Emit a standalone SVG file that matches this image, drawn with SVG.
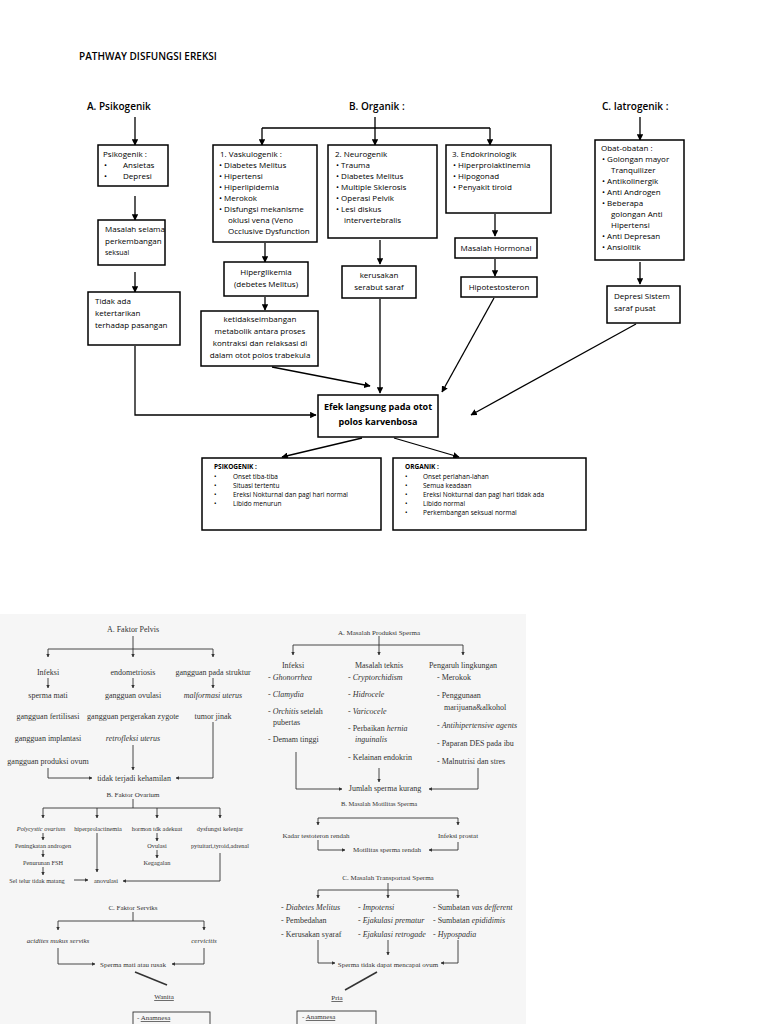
<svg xmlns="http://www.w3.org/2000/svg" width="768" height="1024" viewBox="0 0 768 1024">
<defs>
<marker id="ah" viewBox="0 0 10 10" refX="9" refY="5" markerWidth="5" markerHeight="5" orient="auto"><path d="M0,0 L10,5 L0,10 z" fill="#000"/></marker>
<marker id="as" viewBox="0 0 10 10" refX="9" refY="5" markerWidth="4" markerHeight="4" orient="auto"><path d="M0,0 L10,5 L0,10 z" fill="#333"/></marker>
</defs>
<style>
.b{fill:#fff;stroke:#000;stroke-width:1.5}
.t{font-family:"Open Sans","Liberation Sans",sans-serif;font-size:8px;fill:#000}
.tb{font-family:"Open Sans","Liberation Sans",sans-serif;font-size:8px;font-weight:bold;fill:#000}
.h{font-family:"Open Sans","Liberation Sans",sans-serif;font-size:10px;font-weight:600;fill:#000}
.s{font-family:"Liberation Serif",serif;font-size:8px;fill:#333}
.i{font-style:italic}
.c{text-anchor:middle}
.l{stroke:#000;stroke-width:1.3;fill:none}
.la{stroke:#000;stroke-width:1.3;fill:none;marker-end:url(#ah)}
.sl{stroke:#333;stroke-width:0.9;fill:none}
.sa{stroke:#333;stroke-width:0.9;fill:none;marker-end:url(#as)}
</style>
<rect width="768" height="1024" fill="#fff"/>
<rect x="0" y="614" width="526" height="410" fill="#f6f6f6"/>
<text class="h" x="79" y="60">PATHWAY DISFUNGSI EREKSI</text>
<text class="h" x="87" y="110">A.   Psikogenik</text>
<text class="h" x="349" y="110">B.  Organik :</text>
<text class="h" x="602" y="110">C. Iatrogenik :</text>

<g id="connectors">
<path class="la" d="M135,117 V145"/>
<path class="la" d="M135,196 V220"/>
<path class="la" d="M135,272 V292"/>
<path class="la" d="M135,346 V415 H316"/>
<path class="l" d="M375,117 V128 M262,128 H490"/>
<path class="la" d="M262,128 V145"/><path class="la" d="M375,128 V145"/><path class="la" d="M490,128 V145"/>
<path class="la" d="M265,243 V262"/>
<path class="la" d="M265,297 V310"/>
<path class="la" d="M380,240 V264"/>
<path class="la" d="M380,299 V393"/>
<path class="la" d="M272,367 L370,386"/>
<path class="la" d="M495,214 V236"/>
<path class="la" d="M495,259 V276"/>
<path class="la" d="M494,298 L442,392"/>
<path class="la" d="M640,117 V140"/>
<path class="la" d="M640,262 V284"/>
<path class="la" d="M636,324 L471,415"/>
<path class="la" d="M362,438 L282,457"/>
<path class="la" d="M394,438 L459,457"/>

<path class="sl" d="M133,636 V649 M48,649 H213"/>
<path class="sa" d="M48,649 V657"/><path class="sa" d="M133,649 V657"/><path class="sa" d="M213,649 V657"/>
<path class="sa" d="M48,678 V688"/><path class="sa" d="M133,678 V688"/><path class="sa" d="M213,678 V688"/>
<path class="sa" d="M133,745 V770"/>
<path class="sa" d="M48,768 V778 H92"/>
<path class="sa" d="M213,722 V778 H176"/>
<path class="sl" d="M133,799 V808 M43,808 H220"/>
<path class="sa" d="M43,808 V818"/><path class="sa" d="M97,808 V818"/><path class="sa" d="M157,808 V818"/><path class="sa" d="M220,808 V818"/>
<path class="sa" d="M43,833 V840"/><path class="sa" d="M43,850 V857"/><path class="sa" d="M43,867 V875"/>
<path class="sa" d="M74,880 H88"/>
<path class="sa" d="M97,833 V872"/>
<path class="sa" d="M220,853 V881 H123"/>
<path class="sa" d="M157,833 V841"/><path class="sa" d="M157,850 V858"/>
<path class="sl" d="M133,912 V921 M58,921 H204"/>
<path class="sa" d="M58,921 V930"/><path class="sa" d="M204,921 V930"/>
<path class="sa" d="M58,948 V964 H95"/>
<path class="sa" d="M204,948 V964 H172"/>
<path class="sl" d="M135,972 L167,985" style="stroke-width:1.5"/>

<path class="sl" d="M379,636 V645 M293,645 H463"/>
<path class="sa" d="M293,645 V655"/><path class="sa" d="M379,645 V655"/><path class="sa" d="M463,645 V655"/>
<path class="sa" d="M379,768 V782"/>
<path class="sa" d="M296,752 V789 H342"/>
<path class="sa" d="M478,768 V789 H429"/>
<path class="sl" d="M318,818 H458"/>
<path class="sa" d="M318,818 V825"/><path class="sa" d="M458,818 V825"/>
<path class="sa" d="M318,840 V850 H345"/>
<path class="sa" d="M458,842 V850 H429"/>
<path class="sl" d="M388,883 V890 M318,890 H458"/>
<path class="sa" d="M318,890 V898"/><path class="sa" d="M388,890 V898"/><path class="sa" d="M458,890 V898"/>
<path class="sa" d="M388,940 V955"/>
<path class="sa" d="M318,940 V963 H335"/>
<path class="sa" d="M458,940 V963 H441"/>
<path class="sl" d="M377,972 L345,990" style="stroke-width:1.5"/>
</g>

<g id="psikogenik"><rect class="b" x="98" y="145" width="70" height="41"/>
<text class="t" x="103" y="157">Psikogenik :</text>
<text class="t" x="104" y="168">•</text><text class="t" x="123" y="168">Ansietas</text>
<text class="t" x="104" y="179">•</text><text class="t" x="123" y="179">Depresi</text></g>
<g id="masalah-seksual"><rect class="b" x="98" y="220" width="67" height="45"/>
<text class="t" x="105" y="232">Masalah selama</text><text class="t" x="105" y="244">perkembangan</text><text class="t" x="105" y="255" style="font-size:7px">seksual</text></g>
<g id="tidak-ada"><rect class="b" x="88" y="292" width="92" height="53"/>
<text class="t" x="95" y="304">Tidak ada</text><text class="t" x="95" y="316">ketertarikan</text><text class="t" x="95" y="328">terhadap pasangan</text></g>

<g id="vaskulogenik"><rect class="b" x="213" y="145" width="104" height="97"/>
<text class="t" x="220" y="157">1.      Vaskulogenik :</text>
<text class="t" x="219" y="168">•  Diabetes Melitus</text>
<text class="t" x="219" y="179">•  Hipertensi</text>
<text class="t" x="219" y="190">•  Hiperlipidemia</text>
<text class="t" x="219" y="201">•  Merokok</text>
<text class="t" x="219" y="212">•  Disfungsi mekanisme</text>
<text class="t" x="228" y="223">oklusi vena  (Veno</text>
<text class="t" x="228" y="234">Occlusive Dysfunction</text></g>
<g id="neurogenik"><rect class="b" x="328" y="145" width="109" height="93"/>
<text class="t" x="335" y="157">2.  Neurogenik</text>
<text class="t" x="336" y="168">•  Trauma</text>
<text class="t" x="336" y="179">•  Diabetes Melitus</text>
<text class="t" x="336" y="190">•  Multiple Sklerosis</text>
<text class="t" x="336" y="201">•  Operasi Pelvik</text>
<text class="t" x="336" y="212">•  Lesi diskus</text>
<text class="t" x="344" y="223">intervertebralis</text></g>
<g id="endokrinologik"><rect class="b" x="446" y="145" width="105" height="68"/>
<text class="t" x="452" y="157">3. Endokrinologik</text>
<text class="t" x="453" y="168">•  Hiperprolaktinemia</text>
<text class="t" x="453" y="179">•  Hipogonad</text>
<text class="t" x="453" y="190">•  Penyakit tiroid</text></g>
<g id="hiperglikemia"><rect class="b" x="224" y="262" width="84" height="34"/>
<text class="t c" x="266" y="275">Hiperglikemia</text><text class="t c" x="266" y="287">(debetes Melitus)</text></g>
<g id="ketidakseimbangan"><rect class="b" x="201" y="311" width="117" height="55"/>
<text class="t c" x="260" y="322">ketidakseimbangan</text><text class="t c" x="260" y="334">metabolik antara proses</text>
<text class="t c" x="260" y="346">kontraksi dan relaksasi di</text><text class="t c" x="260" y="358">dalam otot polos trabekula</text></g>
<g id="kerusakan"><rect class="b" x="342" y="266" width="74" height="32"/>
<text class="t c" x="379" y="278">kerusakan</text><text class="t c" x="379" y="290">serabut saraf</text></g>
<g id="hormonal"><rect class="b" x="455" y="238" width="82" height="20"/>
<text class="t c" x="496" y="251">Masalah Hormonal</text></g>
<g id="hipotestosteron"><rect class="b" x="461" y="277" width="76" height="20"/>
<text class="t c" x="499" y="290">Hipotestosteron</text></g>
<g id="obat"><rect class="b" x="595" y="140" width="89" height="120"/>
<text class="t" x="601" y="151">Obat-obatan :</text>
<text class="t" x="602" y="162">•  Golongan mayor</text><text class="t" x="611" y="173">Tranquilizer</text>
<text class="t" x="602" y="184">•  Antikolinergik</text>
<text class="t" x="602" y="195">•  Anti Androgen</text>
<text class="t" x="602" y="206">•  Beberapa</text><text class="t" x="611" y="217">golongan Anti</text><text class="t" x="611" y="228">Hipertensi</text>
<text class="t" x="602" y="239">•  Anti Depresan</text>
<text class="t" x="602" y="250">•  Ansiolitik</text></g>
<g id="depresi"><rect class="b" x="607" y="286" width="73" height="37"/>
<text class="t" x="614" y="299">Depresi Sistem</text><text class="t" x="614" y="311">saraf pusat</text></g>
<g id="efek"><rect class="b" x="318" y="395" width="120" height="42"/>
<text class="tb c" x="378" y="410" style="font-size:9px">Efek langsung pada otot</text>
<text class="tb c" x="378" y="425" style="font-size:9px">polos karvenbosa</text></g>
<g id="psiko-ciri"><rect class="b" x="202" y="458" width="179" height="72"/>
<g class="t" style="font-size:6.5px"><text x="214" y="469" font-weight="bold">PSIKOGENIK :</text>
<text x="214" y="479">•</text><text x="233" y="479">Onset tiba-tiba</text>
<text x="214" y="488">•</text><text x="233" y="488">Situasi tertentu</text>
<text x="214" y="497">•</text><text x="233" y="497">Ereksi Nokturnal dan pagi hari normal</text>
<text x="214" y="506">•</text><text x="233" y="506">Libido menurun</text></g></g>
<g id="organik-ciri"><rect class="b" x="393" y="458" width="193" height="72"/>
<g class="t" style="font-size:6.5px"><text x="405" y="469" font-weight="bold">ORGANIK :</text>
<text x="405" y="479">•</text><text x="423" y="479">Onset perlahan-lahan</text>
<text x="405" y="488">•</text><text x="423" y="488">Semua keadaan</text>
<text x="405" y="497">•</text><text x="423" y="497">Ereksi Nokturnal dan pagi hari tidak ada</text>
<text x="405" y="506">•</text><text x="423" y="506">Libido normal</text>
<text x="405" y="515">•</text><text x="423" y="515">Perkembangan seksual normal</text></g></g>

<g id="faktor-pelvis">
<text class="s c" x="133" y="632">A. Faktor Pelvis</text>
<text class="s c" x="48" y="675">Infeksi</text><text class="s c" x="133" y="675">endometriosis</text><text class="s c" x="213" y="675">gangguan pada struktur</text>
<text class="s c" x="48" y="698">sperma mati</text><text class="s c" x="133" y="698">gangguan ovulasi</text><text class="s c i" x="213" y="698">malformasi uterus</text>
<text class="s c" x="48" y="719">gangguan fertilisasi</text><text class="s c" x="133" y="719">gangguan pergerakan zygote</text><text class="s c" x="213" y="719">tumor jinak</text>
<text class="s c" x="48" y="741">gangguan implantasi</text><text class="s c i" x="133" y="741">retrofleksi uterus</text>
<text class="s c" x="48" y="764">gangguan produksi ovum</text>
<text class="s c" x="134" y="781">tidak terjadi kehamilan</text>
</g>
<g id="faktor-ovarium">
<text class="s c" x="133" y="797" style="font-size:7px">B. Faktor Ovarium</text>
<text class="s c i" x="41" y="831" style="font-size:6.3px">Polycystic ovarium</text><text class="s c" x="98" y="831" style="font-size:6.3px">hiperprolactinemia</text>
<text class="s c" x="157" y="831" style="font-size:6.3px">hormon tdk adekuat</text><text class="s c" x="220" y="831" style="font-size:6.3px">dysfungsi kelenjar</text>
<text class="s c" x="43" y="848" style="font-size:6.3px">Peningkatan androgen</text><text class="s c" x="157" y="848" style="font-size:6.3px">Ovulasi</text>
<text class="s c" x="220" y="848" style="font-size:6.3px">pytuitari,tyroid,adrenal</text>
<text class="s c" x="43" y="865" style="font-size:6.3px">Penurunan FSH</text><text class="s c" x="157" y="865" style="font-size:6.3px">Kegagalan</text>
<text class="s c" x="37" y="883" style="font-size:6.3px">Sel telur tidak matang</text><text class="s c" x="106" y="883" style="font-size:6.3px">anovulasi</text>
</g>
<g id="faktor-serviks">
<text class="s c" x="133" y="910" style="font-size:7px">C. Faktor Serviks</text>
<text class="s c i" x="58" y="943" style="font-size:7px">acidites mukus serviks</text><text class="s c i" x="204" y="943" style="font-size:7px">cervicitis</text>
<text class="s c" x="133" y="967" style="font-size:7px">Sperma mati atau rusak</text>
<text class="s c" x="164" y="999" style="font-size:7px;text-decoration:underline">Wanita</text>
<rect x="133" y="1012" width="77" height="20" fill="none" stroke="#333" stroke-width="0.9"/>
<text class="s" x="137" y="1020" style="font-size:7px">- <tspan style="text-decoration:underline">Anamnesa</tspan></text>
</g>
<g id="produksi-sperma">
<text class="s c" x="379" y="635" style="font-size:7px">A. Masalah Produksi Sperma</text>
<text class="s c" x="293" y="668">Infeksi</text><text class="s c" x="379" y="668">Masalah teknis</text><text class="s c" x="463" y="668">Pengaruh lingkungan</text>
<g style="font-size:7px">
<text class="s" x="268" y="680">- <tspan class="i">Ghonorrhea</tspan></text>
<text class="s" x="268" y="697">- <tspan class="i">Clamydia</tspan></text>
<text class="s" x="268" y="714">- <tspan class="i">Orchitis</tspan> setelah</text>
<text class="s" x="273" y="725">pubertas</text>
<text class="s" x="268" y="742">- Demam tinggi</text>
<text class="s" x="348" y="680">-  <tspan class="i">Cryptorchidism</tspan></text>
<text class="s" x="348" y="697">-  <tspan class="i">Hidrocele</tspan></text>
<text class="s" x="348" y="714">-  <tspan class="i">Varicocele</tspan></text>
<text class="s" x="348" y="731">-  Perbaikan <tspan class="i">hernia</tspan></text>
<text class="s i" x="355" y="742">inguinalis</text>
<text class="s" x="348" y="760">-  Kelainan endokrin</text>
<text class="s" x="437" y="680">- Merokok</text>
<text class="s" x="437" y="698">- Penggunaan</text>
<text class="s" x="444" y="710">marijuana&amp;alkohol</text>
<text class="s" x="437" y="728">- <tspan class="i">Antihipertensive agents</tspan></text>
<text class="s" x="437" y="746">- Paparan DES pada ibu</text>
<text class="s" x="437" y="764">- Malnutrisi dan stres</text>
<text class="s c" x="385" y="791">Jumlah sperma kurang</text>
</g></g>
<g id="motilitas-sperma">
<text class="s c" x="379" y="806" style="font-size:6.5px">B. Masalah Motilitas Sperma</text>
<text class="s c" x="316" y="838" style="font-size:7px">Kadar testoteron rendah</text><text class="s c" x="458" y="838" style="font-size:7px">Infeksi prostat</text>
<text class="s c" x="387" y="852" style="font-size:7px">Motilitas sperma rendah</text>
</g>
<g id="transportasi-sperma">
<text class="s c" x="388" y="880" style="font-size:7px">C. Masalah Transportasi Sperma</text>
<g style="font-size:6.5px">
<text class="s" x="281" y="910">-   <tspan class="i">Diabetes Melitus</tspan></text>
<text class="s" x="281" y="923">-   Pembedahan</text>
<text class="s" x="281" y="937">-   Kerusakan syaraf</text>
<text class="s" x="358" y="910">- <tspan class="i">Impotensi</tspan></text>
<text class="s" x="358" y="923">- <tspan class="i">Ejakulasi prematur</tspan></text>
<text class="s" x="358" y="937">- <tspan class="i">Ejakulasi retrogade</tspan></text>
<text class="s" x="433" y="910">- Sumbatan <tspan class="i">vas defferent</tspan></text>
<text class="s" x="433" y="923">- Sumbatan <tspan class="i">epididimis</tspan></text>
<text class="s" x="433" y="937">- <tspan class="i">Hypospadia</tspan></text>
</g>
<text class="s c" x="388" y="967" style="font-size:7px">Sperma tidak dapat mencapai ovum</text>
<text class="s c" x="337" y="1000" style="font-size:7px;text-decoration:underline">Pria</text>
<rect x="297" y="1011" width="79" height="20" fill="none" stroke="#333" stroke-width="0.9"/>
<text class="s" x="302" y="1019" style="font-size:7px">- <tspan style="text-decoration:underline">Anamnesa</tspan></text>
</g>
</svg>
